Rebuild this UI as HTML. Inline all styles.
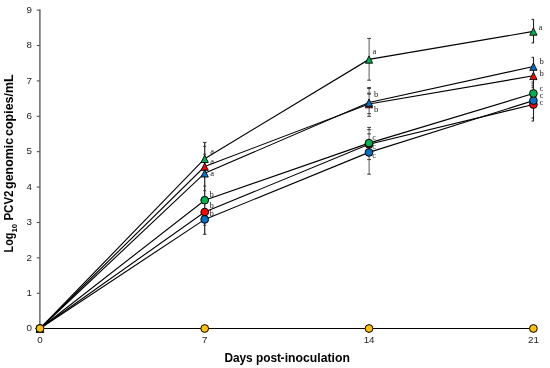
<!DOCTYPE html>
<html><head><meta charset="utf-8"><title>PCV2 chart</title>
<style>html,body{margin:0;padding:0;background:#fff}svg{display:block}.t{font-family:"Liberation Sans",sans-serif;font-size:9.8px;fill:#1c1c1c}.b{font-family:"Liberation Sans",sans-serif;font-weight:bold;fill:#000}.s{font-family:"Liberation Serif",serif;font-size:8.6px;fill:#1a1a1a}</style></head><body>
<svg width="550" height="368" viewBox="0 0 550 368">
<rect width="550" height="368" fill="#fff"/>
<g stroke="#686868" stroke-width="1.5" fill="none">
<line x1="39.9" y1="9.3" x2="39.9" y2="328.5"/>
<line x1="36.8" y1="293.26" x2="39.5" y2="293.26" stroke="#3c3c3c" stroke-width="1"/>
<line x1="36.8" y1="257.87" x2="39.5" y2="257.87" stroke="#3c3c3c" stroke-width="1"/>
<line x1="36.8" y1="222.48" x2="39.5" y2="222.48" stroke="#3c3c3c" stroke-width="1"/>
<line x1="36.8" y1="187.09" x2="39.5" y2="187.09" stroke="#3c3c3c" stroke-width="1"/>
<line x1="36.8" y1="151.70" x2="39.5" y2="151.70" stroke="#3c3c3c" stroke-width="1"/>
<line x1="36.8" y1="116.31" x2="39.5" y2="116.31" stroke="#3c3c3c" stroke-width="1"/>
<line x1="36.8" y1="80.92" x2="39.5" y2="80.92" stroke="#3c3c3c" stroke-width="1"/>
<line x1="36.8" y1="45.53" x2="39.5" y2="45.53" stroke="#3c3c3c" stroke-width="1"/>
<line x1="36.8" y1="10.14" x2="39.5" y2="10.14" stroke="#3c3c3c" stroke-width="1"/>
</g>
<text class="t" x="29.2" y="331.40" text-anchor="middle">0</text>
<text class="t" x="29.2" y="296.01" text-anchor="middle">1</text>
<text class="t" x="29.2" y="260.62" text-anchor="middle">2</text>
<text class="t" x="29.2" y="225.23" text-anchor="middle">3</text>
<text class="t" x="29.2" y="189.84" text-anchor="middle">4</text>
<text class="t" x="29.2" y="154.45" text-anchor="middle">5</text>
<text class="t" x="29.2" y="119.06" text-anchor="middle">6</text>
<text class="t" x="29.2" y="83.67" text-anchor="middle">7</text>
<text class="t" x="29.2" y="48.28" text-anchor="middle">8</text>
<text class="t" x="29.2" y="12.89" text-anchor="middle">9</text>
<text class="t" x="40.1" y="343.3" text-anchor="middle">0</text>
<text class="t" x="204.8" y="343.3" text-anchor="middle">7</text>
<text class="t" x="369.1" y="343.3" text-anchor="middle">14</text>
<text class="t" x="533.5" y="343.3" text-anchor="middle">21</text>
<text class="b" font-size="13.2" x="224.4" y="361.5" textLength="56.6" lengthAdjust="spacingAndGlyphs">Days post</text>
<text class="b" font-size="13.2" x="280.6" y="361.5" textLength="69.3" lengthAdjust="spacingAndGlyphs">-inoculation</text>
<text class="b" font-size="13.2" transform="translate(13.1,252.40) rotate(-90)" textLength="19.70" lengthAdjust="spacingAndGlyphs">Log</text>
<text class="b" font-size="7.8" transform="translate(16.7,232.60) rotate(-90)" textLength="8.70" lengthAdjust="spacingAndGlyphs">10</text>
<text class="b" font-size="13.2" transform="translate(13.1,220.60) rotate(-90)" textLength="30.10" lengthAdjust="spacingAndGlyphs">PCV2</text>
<text class="b" font-size="13.2" transform="translate(13.1,188.90) rotate(-90)" textLength="51.10" lengthAdjust="spacingAndGlyphs">genomic</text>
<text class="b" font-size="13.2" transform="translate(13.1,136.00) rotate(-90)" textLength="61.70" lengthAdjust="spacingAndGlyphs">copies/mL</text>
<g stroke="#303030" stroke-width="0.95" fill="none">
<line x1="204.7" y1="142.4" x2="204.7" y2="234.3"/>
<line x1="202.89999999999998" y1="142.4" x2="206.5" y2="142.4"/>
<line x1="202.89999999999998" y1="234.3" x2="206.5" y2="234.3"/>
<line x1="204.7" y1="142.4" x2="204.7" y2="234.3"/>
<line x1="203.2" y1="146.4" x2="206.2" y2="146.4"/>
<line x1="203.2" y1="154.2" x2="206.2" y2="154.2"/>
<line x1="203.2" y1="186.1" x2="206.2" y2="186.1"/>
<line x1="203.2" y1="190.7" x2="206.2" y2="190.7"/>
<line x1="203.2" y1="225.3" x2="206.2" y2="225.3"/>
</g><g stroke="#595959" stroke-width="1" fill="none">
<line x1="369.1" y1="38.4" x2="369.1" y2="80.2"/>
<line x1="367.20000000000005" y1="38.4" x2="371.0" y2="38.4" stroke="#2b2b2b" stroke-width="0.9"/>
<line x1="367.20000000000005" y1="80.2" x2="371.0" y2="80.2" stroke="#2b2b2b" stroke-width="0.9"/>
<line x1="369.1" y1="87.5" x2="369.1" y2="116.5"/>
<line x1="367.20000000000005" y1="87.5" x2="371.0" y2="87.5" stroke="#2b2b2b" stroke-width="0.9"/>
<line x1="367.20000000000005" y1="88.5" x2="371.0" y2="88.5" stroke="#2b2b2b" stroke-width="0.9"/>
<line x1="367.20000000000005" y1="93.2" x2="371.0" y2="93.2" stroke="#2b2b2b" stroke-width="0.9"/>
<line x1="367.20000000000005" y1="94.1" x2="371.0" y2="94.1" stroke="#2b2b2b" stroke-width="0.9"/>
<line x1="367.20000000000005" y1="113.7" x2="371.0" y2="113.7" stroke="#2b2b2b" stroke-width="0.9"/>
<line x1="367.20000000000005" y1="116.4" x2="371.0" y2="116.4" stroke="#2b2b2b" stroke-width="0.9"/>
<line x1="369.1" y1="127.4" x2="369.1" y2="174.2"/>
<line x1="367.20000000000005" y1="127.4" x2="371.0" y2="127.4" stroke="#2b2b2b" stroke-width="0.9"/>
<line x1="367.20000000000005" y1="129.6" x2="371.0" y2="129.6" stroke="#2b2b2b" stroke-width="0.9"/>
<line x1="367.20000000000005" y1="133.9" x2="371.0" y2="133.9" stroke="#2b2b2b" stroke-width="0.9"/>
<line x1="367.20000000000005" y1="159.6" x2="371.0" y2="159.6" stroke="#2b2b2b" stroke-width="0.9"/>
<line x1="367.20000000000005" y1="174.2" x2="371.0" y2="174.2" stroke="#2b2b2b" stroke-width="0.9"/>
</g><g stroke="#222" stroke-width="1.1" fill="none">
<line x1="533.5" y1="19.2" x2="533.5" y2="43.1"/>
<line x1="531.6" y1="19.4" x2="533.5" y2="19.4"/>
<line x1="531.6" y1="42.9" x2="533.5" y2="42.9"/>
<line x1="533.5" y1="57.1" x2="533.5" y2="121.2"/>
<line x1="531.6" y1="57.3" x2="533.5" y2="57.3"/>
<line x1="531.6" y1="82" x2="533.5" y2="82"/>
<line x1="531.6" y1="83.9" x2="533.5" y2="83.9"/>
<line x1="531.6" y1="85.8" x2="533.5" y2="85.8"/>
<line x1="531.6" y1="87.7" x2="533.5" y2="87.7"/>
<line x1="531.6" y1="118" x2="533.5" y2="118"/>
<line x1="531.6" y1="121" x2="533.5" y2="121"/>
</g>
<polyline points="40.0,328.5 204.7,212.1 369.0,144.3 533.4,104.5" fill="none" stroke="#000" stroke-width="1.12"/>
<circle cx="40.0" cy="328.5" r="3.88" fill="#ff0000" stroke="#000" stroke-width="1"/>
<circle cx="204.7" cy="212.1" r="3.88" fill="#ff0000" stroke="#000" stroke-width="1"/>
<circle cx="369.0" cy="144.3" r="3.88" fill="#ff0000" stroke="#000" stroke-width="1"/>
<circle cx="533.4" cy="104.5" r="3.88" fill="#ff0000" stroke="#000" stroke-width="1"/>
<polyline points="40.0,328.5 204.7,219.4 369.0,152.4 533.4,100.6" fill="none" stroke="#000" stroke-width="1.12"/>
<circle cx="40.0" cy="328.5" r="3.88" fill="#0070c0" stroke="#000" stroke-width="1"/>
<circle cx="204.7" cy="219.4" r="3.88" fill="#0070c0" stroke="#000" stroke-width="1"/>
<circle cx="369.0" cy="152.4" r="3.88" fill="#0070c0" stroke="#000" stroke-width="1"/>
<circle cx="533.4" cy="100.6" r="3.88" fill="#0070c0" stroke="#000" stroke-width="1"/>
<polyline points="40.0,328.5 204.7,200.2 369.0,143.1 533.4,93.5" fill="none" stroke="#000" stroke-width="1.12"/>
<circle cx="40.0" cy="328.5" r="3.88" fill="#00b050" stroke="#000" stroke-width="1"/>
<circle cx="204.7" cy="200.2" r="3.88" fill="#00b050" stroke="#000" stroke-width="1"/>
<circle cx="369.0" cy="143.1" r="3.88" fill="#00b050" stroke="#000" stroke-width="1"/>
<circle cx="533.4" cy="93.5" r="3.88" fill="#00b050" stroke="#000" stroke-width="1"/>
<polyline points="40.0,328.5 204.7,166.5 369.0,104.0 533.4,75.8" fill="none" stroke="#000" stroke-width="1.12"/>
<path d="M40.0 325.00L43.6 332.30L36.4 332.30Z" fill="#ff0000" stroke="#000" stroke-width="0.9" stroke-linejoin="miter"/>
<path d="M204.7 163.00L208.3 170.30L201.1 170.30Z" fill="#ff0000" stroke="#000" stroke-width="0.9" stroke-linejoin="miter"/>
<path d="M369.0 100.50L372.6 107.80L365.4 107.80Z" fill="#ff0000" stroke="#000" stroke-width="0.9" stroke-linejoin="miter"/>
<path d="M533.4 72.30L537.0 79.60L529.8 79.60Z" fill="#ff0000" stroke="#000" stroke-width="0.9" stroke-linejoin="miter"/>
<polyline points="40.0,328.5 204.7,173.2 369.0,102.5 533.4,66.5" fill="none" stroke="#000" stroke-width="1.12"/>
<path d="M40.0 325.00L43.6 332.30L36.4 332.30Z" fill="#0070c0" stroke="#000" stroke-width="0.9" stroke-linejoin="miter"/>
<path d="M204.7 169.70L208.3 177.00L201.1 177.00Z" fill="#0070c0" stroke="#000" stroke-width="0.9" stroke-linejoin="miter"/>
<path d="M369.0 99.00L372.6 106.30L365.4 106.30Z" fill="#0070c0" stroke="#000" stroke-width="0.9" stroke-linejoin="miter"/>
<path d="M533.4 63.00L537.0 70.30L529.8 70.30Z" fill="#0070c0" stroke="#000" stroke-width="0.9" stroke-linejoin="miter"/>
<polyline points="40.0,328.5 204.7,158.7 369.0,59.4 533.4,31.4" fill="none" stroke="#000" stroke-width="1.12"/>
<path d="M40.0 325.00L43.6 332.30L36.4 332.30Z" fill="#00b050" stroke="#000" stroke-width="0.9" stroke-linejoin="miter"/>
<path d="M204.7 155.20L208.3 162.50L201.1 162.50Z" fill="#00b050" stroke="#000" stroke-width="0.9" stroke-linejoin="miter"/>
<path d="M369.0 55.90L372.6 63.20L365.4 63.20Z" fill="#00b050" stroke="#000" stroke-width="0.9" stroke-linejoin="miter"/>
<path d="M533.4 27.90L537.0 35.20L529.8 35.20Z" fill="#00b050" stroke="#000" stroke-width="0.9" stroke-linejoin="miter"/>
<line x1="40" y1="328.5" x2="533.4" y2="328.5" stroke="#000" stroke-width="1.12"/>
<circle cx="40.0" cy="328.5" r="3.88" fill="#ffc000" stroke="#000" stroke-width="1"/>
<circle cx="204.7" cy="328.5" r="3.88" fill="#ffc000" stroke="#000" stroke-width="1"/>
<circle cx="369.0" cy="328.5" r="3.88" fill="#ffc000" stroke="#000" stroke-width="1"/>
<circle cx="533.4" cy="328.5" r="3.88" fill="#ffc000" stroke="#000" stroke-width="1"/>
<text class="s" x="212.1" y="154.0" text-anchor="middle">a</text>
<text class="s" x="212.1" y="163.6" text-anchor="middle">a</text>
<text class="s" x="212.1" y="176.0" text-anchor="middle">a</text>
<text class="s" x="211.7" y="197.0" text-anchor="middle">b</text>
<text class="s" x="211.7" y="207.9" text-anchor="middle">b</text>
<text class="s" x="211.7" y="216.0" text-anchor="middle">b</text>
<text class="s" x="374.3" y="53.8" text-anchor="middle">a</text>
<text class="s" x="376.2" y="97.3" text-anchor="middle">b</text>
<text class="s" x="376.2" y="111.7" text-anchor="middle">b</text>
<text class="s" x="374.1" y="139.8" text-anchor="middle">c</text>
<text class="s" x="374.2" y="148.6" text-anchor="middle">c</text>
<text class="s" x="374.2" y="157.5" text-anchor="middle">c</text>
<text class="s" x="540.5" y="29.6" text-anchor="middle">a</text>
<text class="s" x="541.7" y="64.1" text-anchor="middle">b</text>
<text class="s" x="541.7" y="75.9" text-anchor="middle">b</text>
<text class="s" x="541.5" y="91.3" text-anchor="middle">c</text>
<text class="s" x="541.5" y="98.1" text-anchor="middle">c</text>
<text class="s" x="541.5" y="105.2" text-anchor="middle">c</text>
</svg></body></html>
